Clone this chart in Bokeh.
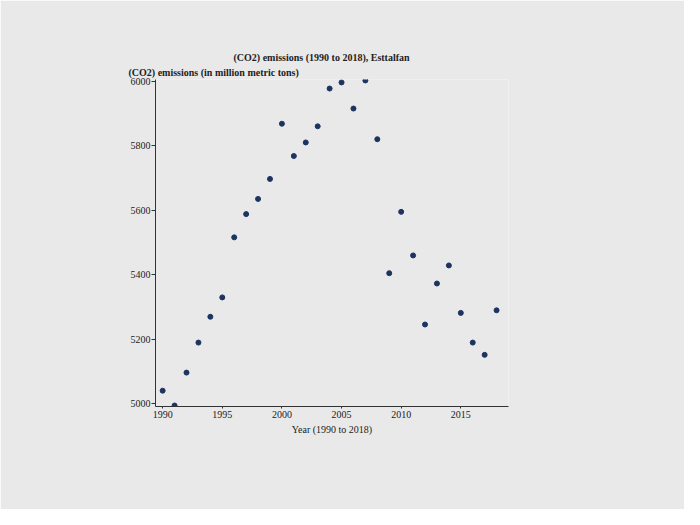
from bokeh.embed import file_html
from bokeh.models import ColumnDataSource, FixedTicker, Range1d, Title
from bokeh.plotting import figure
from bokeh.resources import INLINE

years = list(range(1990, 2019))
emissions = [
    5041, 4995, 5097, 5190, 5270, 5330, 5516, 5588, 5635, 5697,
    5868, 5768, 5810, 5860, 5977, 5996, 5915, 6002, 5820, 5405,
    5595, 5460, 5246, 5373, 5429, 5282, 5190, 5152, 5290,
]
y_ticks = [5000, 5200, 5400, 5600, 5800, 6000]
x_ticks = [1990, 1995, 2000, 2005, 2010, 2015]

title_text = "(CO2) emissions (1990 to 2018), Esttalfan"
y_label_text = "(CO2) emissions (in million metric tons)"
x_label_text = "Year (1990 to 2018)"

FONT = "Liberation Serif"
BG = "#e9e9e9"
INK = "#222222"

src = ColumnDataSource({"year": years, "co2": emissions})

p = figure(
    width=684,
    height=509,
    x_range=Range1d(start=1989.4, end=2019.0),
    y_range=Range1d(start=4992, end=6005),
    toolbar_location=None,
    output_backend="svg",
    background_fill_color=BG,
    border_fill_color=BG,
    outline_line_color=None,
    min_border_left=155,
    min_border_right=176,
    min_border_top=79,
    min_border_bottom=103,
)
p.grid.visible = False

p.scatter("year", "co2", source=src, size=5, fill_color="#1d3461", line_color="#1d3461")

p.yaxis.ticker = FixedTicker(ticks=y_ticks)
p.xaxis.ticker = FixedTicker(ticks=x_ticks)
for ax in (p.xaxis, p.yaxis):
    ax.minor_tick_line_color = None
    ax.axis_line_color = "#333333"
    ax.major_tick_line_color = "#333333"
    ax.major_label_text_font = FONT
    ax.major_label_text_font_size = "10px"
    ax.major_label_text_color = INK
p.yaxis.major_tick_out = 4
p.yaxis.major_tick_in = 0
p.xaxis.major_tick_out = 2
p.xaxis.major_tick_in = 0
p.xaxis.major_label_standoff = 2
p.yaxis.major_label_standoff = 1

p.xaxis.axis_label = x_label_text
p.xaxis.axis_label_text_font = FONT
p.xaxis.axis_label_text_font_size = "10px"
p.xaxis.axis_label_text_font_style = "normal"
p.xaxis.axis_label_text_color = INK
p.xaxis.axis_label_standoff = 3

p.add_layout(Title(
    text=y_label_text, align="left", offset=-27, standoff=4,
    text_font=FONT, text_font_size="10px", text_font_style="bold", text_color=INK,
), "above")
p.add_layout(Title(
    text=title_text, align="left", offset=78, standoff=0,
    text_font=FONT, text_font_size="10px", text_font_style="bold", text_color=INK,
), "above")

open("out.html", "w").write(file_html(p, INLINE))
